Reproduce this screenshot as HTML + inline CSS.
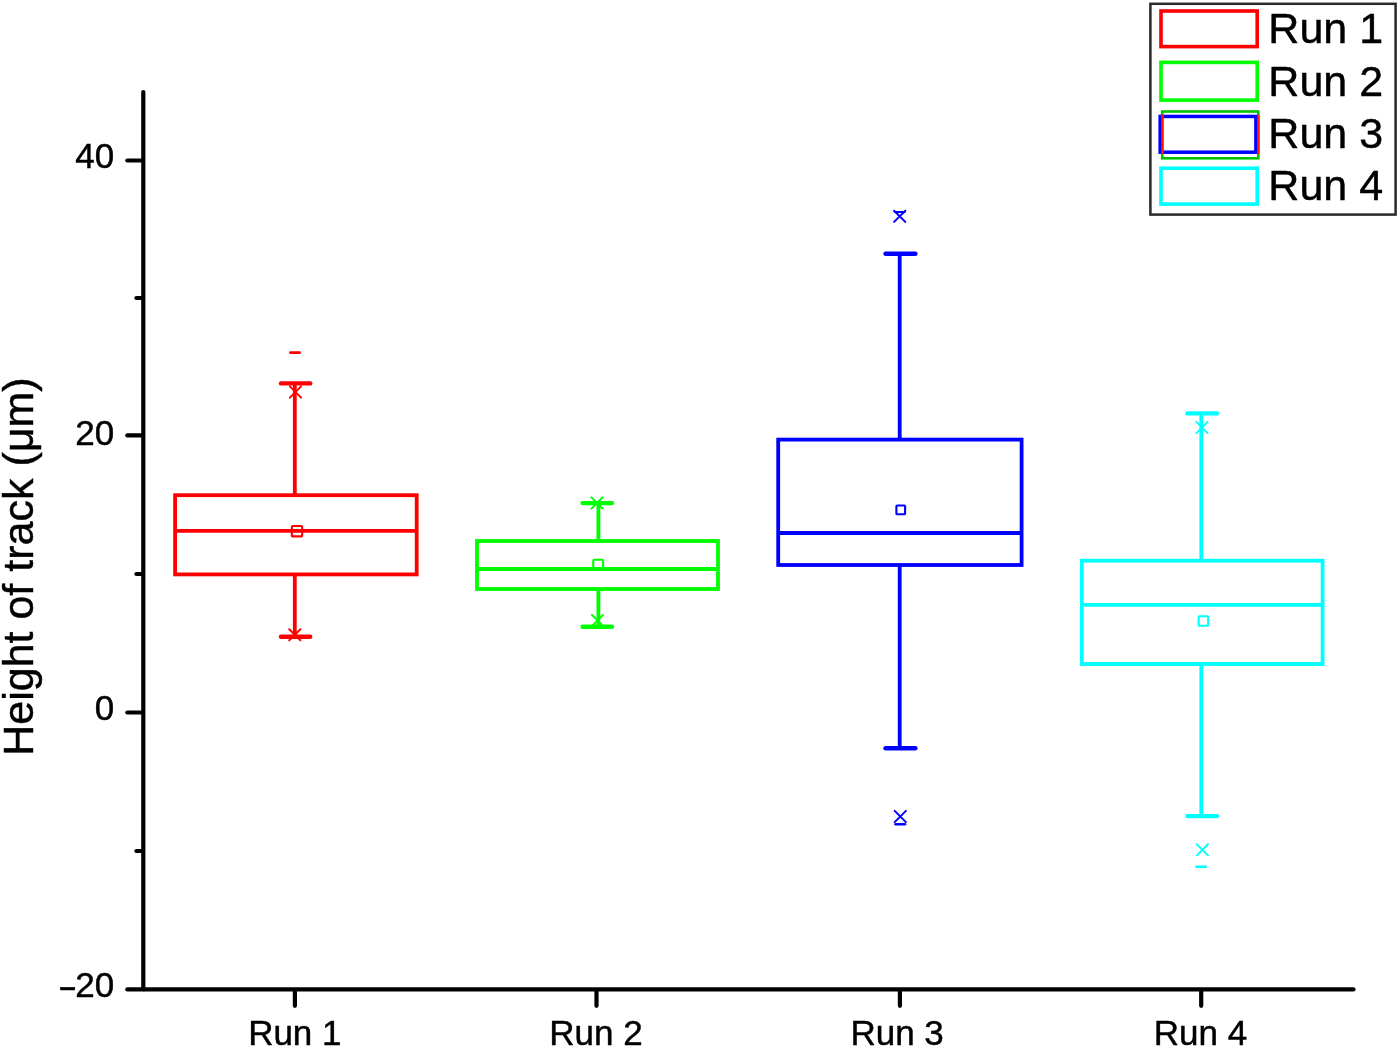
<!DOCTYPE html><html><head><meta charset="utf-8"><title>Height of track box chart</title>
<style>html,body{margin:0;padding:0;background:#fff;width:1400px;height:1049px;overflow:hidden}svg{display:block}</style></head><body>
<svg width="1400" height="1049" viewBox="0 0 1400 1049">
<rect width="1400" height="1049" fill="#fff"/>
<g stroke="#000" fill="none" stroke-linecap="round">
<line x1="143.30" y1="92.10" x2="143.30" y2="989.40" stroke-width="4.2"/>
<line x1="143.30" y1="989.40" x2="1353.50" y2="989.40" stroke-width="4.2"/>
<line x1="127.30" y1="160.50" x2="141.20" y2="160.50" stroke-width="4.2"/>
<line x1="127.30" y1="435.40" x2="141.20" y2="435.40" stroke-width="4.2"/>
<line x1="127.30" y1="712.50" x2="141.20" y2="712.50" stroke-width="4.2"/>
<line x1="127.30" y1="989.40" x2="141.20" y2="989.40" stroke-width="4.2"/>
<line x1="136.40" y1="298.00" x2="141.20" y2="298.00" stroke-width="4.2"/>
<line x1="136.40" y1="574.00" x2="141.20" y2="574.00" stroke-width="4.2"/>
<line x1="136.40" y1="851.00" x2="141.20" y2="851.00" stroke-width="4.2"/>
<line x1="294.90" y1="991.50" x2="294.90" y2="1005.80" stroke-width="4.2"/>
<line x1="596.50" y1="991.50" x2="596.50" y2="1005.80" stroke-width="4.2"/>
<line x1="899.90" y1="991.50" x2="899.90" y2="1005.80" stroke-width="4.2"/>
<line x1="1201.20" y1="991.50" x2="1201.20" y2="1005.80" stroke-width="4.2"/>
</g>
<text x="114.2" y="167.8" text-anchor="end" font-size="35.0" font-family="'Liberation Sans', Arial, sans-serif" stroke="#000" stroke-width="0.45" fill="#000">40</text>
<text x="114.2" y="445.0" text-anchor="end" font-size="35.0" font-family="'Liberation Sans', Arial, sans-serif" stroke="#000" stroke-width="0.45" fill="#000">20</text>
<text x="114.2" y="719.6" text-anchor="end" font-size="35.0" font-family="'Liberation Sans', Arial, sans-serif" stroke="#000" stroke-width="0.45" fill="#000">0</text>
<text x="114.2" y="997.3" text-anchor="end" font-size="35.0" font-family="'Liberation Sans', Arial, sans-serif" stroke="#000" stroke-width="0.45" fill="#000">20</text>
<text transform="translate(57.9 998.0) scale(1.65 1)" font-size="35.0" font-family="'Liberation Sans', Arial, sans-serif" stroke="#000" stroke-width="0.45" fill="#000">-</text>
<text x="248.13" y="1044.8" font-size="35.0" font-family="'Liberation Sans', Arial, sans-serif" stroke="#000" stroke-width="0.45" fill="#000">Run 1</text>
<text x="549.33" y="1044.8" font-size="35.0" font-family="'Liberation Sans', Arial, sans-serif" stroke="#000" stroke-width="0.45" fill="#000">Run 2</text>
<text x="850.43" y="1044.8" font-size="35.0" font-family="'Liberation Sans', Arial, sans-serif" stroke="#000" stroke-width="0.45" fill="#000">Run 3</text>
<text x="1153.73" y="1044.8" font-size="35.0" font-family="'Liberation Sans', Arial, sans-serif" stroke="#000" stroke-width="0.45" fill="#000">Run 4</text>
<text transform="translate(32.6 566.6) rotate(-90)" text-anchor="middle" font-size="43" font-family="'Liberation Sans', Arial, sans-serif" stroke="#000" stroke-width="0.45" fill="#000">Height of track (μm)</text>
<g stroke="#ff0000" fill="none" stroke-linecap="round">
<line x1="294.8" y1="495.2" x2="294.8" y2="383.4" stroke-width="3.8" stroke-linecap="butt"/>
<line x1="294.8" y1="574.4" x2="294.8" y2="636.7" stroke-width="3.8" stroke-linecap="butt"/>
<line x1="281.00" y1="383.40" x2="310.20" y2="383.40" stroke-width="4.4"/>
<line x1="281.00" y1="636.70" x2="310.20" y2="636.70" stroke-width="4.4"/>
<rect x="175.1" y="495.2" width="241.60" height="79.20" fill="#fff" stroke-width="3.8"/>
<line x1="175.1" y1="530.9" x2="416.7" y2="530.9" stroke-width="3.8" stroke-linecap="butt"/>
<rect x="291.85" y="526.05" width="10.30" height="10.30" stroke-width="2.1" rx="0.8"/>
<line x1="290.30" y1="352.60" x2="299.70" y2="352.60" stroke-width="2.6"/>
<path d="M289.90 386.40L301.10 397.60M301.10 386.40L289.90 397.60" stroke-width="2.0"/>
<path d="M289.20 629.20L300.40 640.40M300.40 629.20L289.20 640.40" stroke-width="2.0"/>
</g>
<g stroke="#00ff00" fill="none" stroke-linecap="round">
<line x1="598.4" y1="541.0" x2="598.4" y2="503.1" stroke-width="3.8" stroke-linecap="butt"/>
<line x1="598.4" y1="589.0" x2="598.4" y2="626.8" stroke-width="3.8" stroke-linecap="butt"/>
<line x1="582.60" y1="503.10" x2="612.00" y2="503.10" stroke-width="4.4"/>
<line x1="582.60" y1="626.80" x2="612.00" y2="626.80" stroke-width="4.4"/>
<rect x="477.0" y="541.0" width="241.00" height="48.00" fill="#fff" stroke-width="3.8"/>
<line x1="477.0" y1="569.0" x2="718.0" y2="569.0" stroke-width="3.8" stroke-linecap="butt"/>
<rect x="593.25" y="559.75" width="9.90" height="9.90" stroke-width="2.1" rx="0.8"/>
<path d="M591.40 497.40L602.60 508.60M602.60 497.40L591.40 508.60" stroke-width="2.0"/>
<path d="M591.90 614.90L603.10 626.10M603.10 614.90L591.90 626.10" stroke-width="2.0"/>
</g>
<g stroke="#0000ff" fill="none" stroke-linecap="round">
<line x1="899.7" y1="439.6" x2="899.7" y2="253.8" stroke-width="3.8" stroke-linecap="butt"/>
<line x1="899.7" y1="565.0" x2="899.7" y2="748.3" stroke-width="3.8" stroke-linecap="butt"/>
<line x1="885.50" y1="253.80" x2="915.40" y2="253.80" stroke-width="4.4"/>
<line x1="885.50" y1="748.30" x2="915.40" y2="748.30" stroke-width="4.4"/>
<rect x="778.2" y="439.6" width="243.40" height="125.40" fill="#fff" stroke-width="3.8"/>
<line x1="778.2" y1="533.0" x2="1021.6" y2="533.0" stroke-width="3.8" stroke-linecap="butt"/>
<rect x="896.40" y="505.55" width="8.70" height="8.70" stroke-width="2.1" rx="0.8"/>
<path d="M894.10 210.70L905.30 221.90M905.30 210.70L894.10 221.90" stroke-width="2.0"/>
<line x1="894.65" y1="212.00" x2="904.75" y2="212.00" stroke-width="1.9"/>
<path d="M894.70 810.90L905.90 822.10M905.90 810.90L894.70 822.10" stroke-width="2.0"/>
<line x1="895.60" y1="824.20" x2="905.00" y2="824.20" stroke-width="2.6"/>
</g>
<g stroke="#00ffff" fill="none" stroke-linecap="round">
<line x1="1201.3" y1="560.7" x2="1201.3" y2="413.4" stroke-width="3.8" stroke-linecap="butt"/>
<line x1="1201.3" y1="664.0" x2="1201.3" y2="816.1" stroke-width="3.8" stroke-linecap="butt"/>
<line x1="1187.40" y1="413.40" x2="1217.00" y2="413.40" stroke-width="4.4"/>
<line x1="1187.40" y1="816.10" x2="1217.00" y2="816.10" stroke-width="4.4"/>
<rect x="1081.8" y="560.7" width="240.80" height="103.30" fill="#fff" stroke-width="3.8"/>
<line x1="1081.8" y1="604.8" x2="1322.6" y2="604.8" stroke-width="3.8" stroke-linecap="butt"/>
<rect x="1198.65" y="616.25" width="9.50" height="9.50" stroke-width="2.1" rx="0.8"/>
<path d="M1196.40 421.90L1207.60 433.10M1207.60 421.90L1196.40 433.10" stroke-width="2.0"/>
<path d="M1196.80 844.20L1208.00 855.40M1208.00 844.20L1196.80 855.40" stroke-width="2.0"/>
<line x1="1196.40" y1="866.80" x2="1205.80" y2="866.80" stroke-width="2.6"/>
</g>
<rect x="1150.4" y="3.8" width="245.2" height="210.8" fill="#fff" stroke="#2a2a2a" stroke-width="2.5"/>
<rect x="1161.00" y="11.00" width="96.20" height="35.60" fill="none" stroke="#ff0000" stroke-width="3.6"/>
<rect x="1161.00" y="62.40" width="96.20" height="37.70" fill="none" stroke="#00ff00" stroke-width="3.6"/>
<rect x="1162.2" y="111.5" width="96.1" height="46.8" fill="none" stroke="#00c400" stroke-width="2.6"/>
<rect x="1160.15" y="116.45" width="95.75" height="35.75" fill="none" stroke="#0000ff" stroke-width="3.5"/>
<line x1="1162.45" y1="114.6" x2="1162.45" y2="154.2" stroke="#ff1a00" stroke-width="2.4"/>
<line x1="1258.35" y1="114.6" x2="1258.35" y2="154.2" stroke="#ff1a00" stroke-width="2.4"/>
<rect x="1161.00" y="168.20" width="96.20" height="35.90" fill="none" stroke="#00ffff" stroke-width="3.6"/>
<text x="1268.37" y="42.5" font-size="43" font-family="'Liberation Sans', Arial, sans-serif" stroke="#000" stroke-width="0.45" fill="#000">Run 1</text>
<text x="1268.37" y="95.9" font-size="43" font-family="'Liberation Sans', Arial, sans-serif" stroke="#000" stroke-width="0.45" fill="#000">Run 2</text>
<text x="1268.37" y="148.0" font-size="43" font-family="'Liberation Sans', Arial, sans-serif" stroke="#000" stroke-width="0.45" fill="#000">Run 3</text>
<text x="1268.37" y="200.1" font-size="43" font-family="'Liberation Sans', Arial, sans-serif" stroke="#000" stroke-width="0.45" fill="#000">Run 4</text>
</svg></body></html>
